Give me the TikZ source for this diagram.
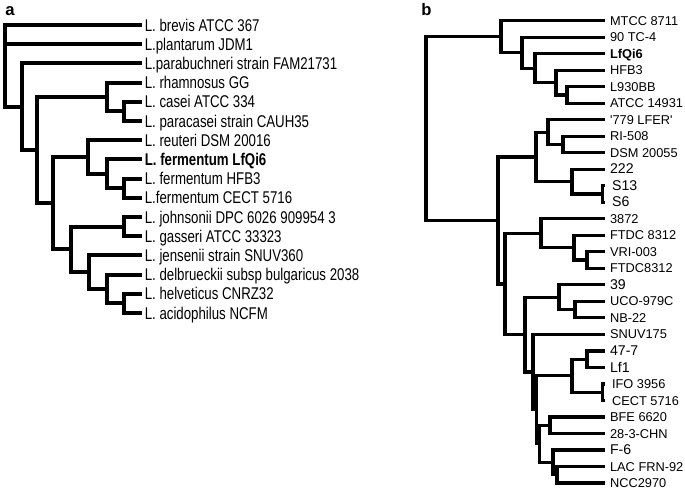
\documentclass[tikz,border=0pt]{standalone}
\usepackage{fontspec}
\setmainfont{Liberation Sans}
\newfontfamily\narrowsans[FakeStretch=0.78]{Liberation Sans}
\newcommand{\biglabel}{\fontsize{10.6}{12}\selectfont}

\begin{document}
\begin{tikzpicture}[
    x=0.75pt, y=-0.75pt,
    panel/.style={font=\fontsize{12.5}{14}\selectfont\bfseries, anchor=base west, inner sep=0pt},
    brancha/.style={line width=3.1pt, line join=miter},
    branchb/.style={line width=2.4pt, line join=miter},
    leafa/.style={anchor=west, inner xsep=1.9pt, inner ysep=0pt, text height=9.2pt, text depth=0pt,
        font=\narrowsans\fontsize{12.75}{14}\selectfont},
    leafb/.style={anchor=west, inner xsep=3.6pt, inner ysep=0pt, text height=6.9pt, text depth=0pt,
        font=\fontsize{9.6}{11}\selectfont},
]
\useasboundingbox (0,0) rectangle (685,490);

% =====================================================================
% PANEL A: species tree
% =====================================================================
\node[panel] (labela) at (5,15) {a};

\foreach \txt [count=\i] in {L. brevis ATCC 367, L.plantarum JDM1, L.parabuchneri strain FAM21731,
    L. rhamnosus GG, L. casei ATCC 334, L. paracasei strain CAUH35, L. reuteri DSM 20016,
    {\bfseries L. fermentum LfQi6}, L. fermentum HFB3, L.fermentum CECT 5716,
    L. johnsonii DPC 6026 909954 3, L. gasseri ATCC 33323, L. jensenii strain SNUV360,
    L. delbrueckii subsp bulgaricus 2038, L. helveticus CNRZ32, L. acidophilus NCFM} {
    \pgfmathsetmacro{\y}{25+19.2*(\i-1)}
    \node[leafa] (a\i) at (142,\y) {\txt};
}

% internal nodes
\coordinate (j0) at (5,106.75);
\coordinate (j1) at (22,106.75);
\coordinate (j2) at (37,150.1);
\coordinate (j3) at (107,97);
\coordinate (j4) at (124,111.4);
\coordinate (j5) at (53,203.2);
\coordinate (j6) at (88,157);
\coordinate (j7) at (107,173.8);
\coordinate (j8) at (124,188.2);
\coordinate (j9) at (71,249.4);
\coordinate (j10) at (124,226.6);
\coordinate (j11) at (89,272.2);
\coordinate (j12) at (107,289);
\coordinate (j13) at (124,303.4);

% root has three children
\draw[brancha] (a1.west) -| (j0) -- (j1);
\draw[brancha] (j0 |- a2.west) -- (a2.west);
\foreach \hi/\nd/\lo in {a3.west/j1/j2, j3/j2/j5, a4.west/j3/j4, a5.west/j4/a6.west,
    j6/j5/j9, a7.west/j6/j7, a8.west/j7/j8, a9.west/j8/a10.west,
    j10/j9/j11, a11.west/j10/a12.west, a13.west/j11/j12, a14.west/j12/j13,
    a15.west/j13/a16.west} {
    \draw[brancha] (\hi) -| (\nd) |- (\lo);
}

% =====================================================================
% PANEL B: strain tree
% =====================================================================
\node[panel] (labelb) at (421,15) {b};

\foreach \txt [count=\i] in {MTCC 8711, 90 TC-4, {\bfseries LfQi6}, HFB3, L930BB, ATCC 14931,
    {\textquotesingle 779 LFER\textquotesingle}, RI-508, DSM 20055, {\biglabel 222},
    {\hspace*{1.5pt}\biglabel S13}, {\hspace*{1.5pt}\biglabel S6}, 3872, FTDC 8312, VRI-003, FTDC8312,
    {\biglabel 39}, UCO-979C, NB-22, SNUV175, {\biglabel 47-7}, {\biglabel Lf1},
    {\hspace*{1.5pt}IFO 3956}, {\hspace*{1.5pt}CECT 5716}, BFE 6620, 28-3-CHN, {\biglabel F-6},
    LAC FRN-92, NCC2970} {
    \pgfmathsetmacro{\y}{20.7+16.51*(\i-1)}
    \node[leafb] (b\i) at (605,\y) {\txt};
}

% internal nodes
\coordinate (k0) at (426,220.5);
\coordinate (k1) at (501,36.7);
\coordinate (k2) at (522,52.7);
\coordinate (k3) at (535,68.15);
\coordinate (k4) at (556,82.6);
\coordinate (k5) at (567,95);
\coordinate (k6) at (498,220.5);
\coordinate (k7) at (536,156.95);
\coordinate (k8) at (548,132.2);
\coordinate (k9) at (563,144.55);
\coordinate (k10) at (572,181.7);
\coordinate (k11) at (602.5,194.05);
\coordinate (k12) at (505,284);
\coordinate (k13) at (541,233.25);
\coordinate (k14) at (574,247.7);
\coordinate (k15) at (587,260.05);
\coordinate (k16) at (525,334.7);
\coordinate (k17) at (559,297.3);
\coordinate (k18) at (575,309.65);
\coordinate (k19) at (533,372.05);
\coordinate (k20) at (536.5,409.7);
\coordinate (k21) at (572,375.65);
\coordinate (k22) at (587,359.15);
\coordinate (k23) at (602.5,392.15);
\coordinate (k24) at (539.5,443.7);
\coordinate (k25) at (550,425.15);
\coordinate (k26) at (553,462.3);
\coordinate (k27) at (557,474.75);

\foreach \hi/\nd/\lo in {k1/k0/k6, b1.west/k1/k2, b2.west/k2/k3, b3.west/k3/k4, b4.west/k4/k5,
    b5.west/k5/b6.west, k7/k6/k12, k8/k7/k10, b7.west/k8/k9, b8.west/k9/b9.west,
    b10.west/k10/k11, b11.west/k11/b12.west, k13/k12/k16, b13.west/k13/k14,
    b14.west/k14/k15, b15.west/k15/b16.west, k17/k16/k19, b17.west/k17/k18,
    b18.west/k18/b19.west, b20.west/k19/k20, k21/k20/k24, k22/k21/k23,
    b21.west/k22/b22.west, b23.west/k23/b24.west, k25/k24/k26, b25.west/k25/b26.west,
    b27.west/k26/k27, b28.west/k27/b29.west} {
    \draw[branchb] (\hi) -| (\nd) |- (\lo);
}

\end{tikzpicture}
\end{document}
